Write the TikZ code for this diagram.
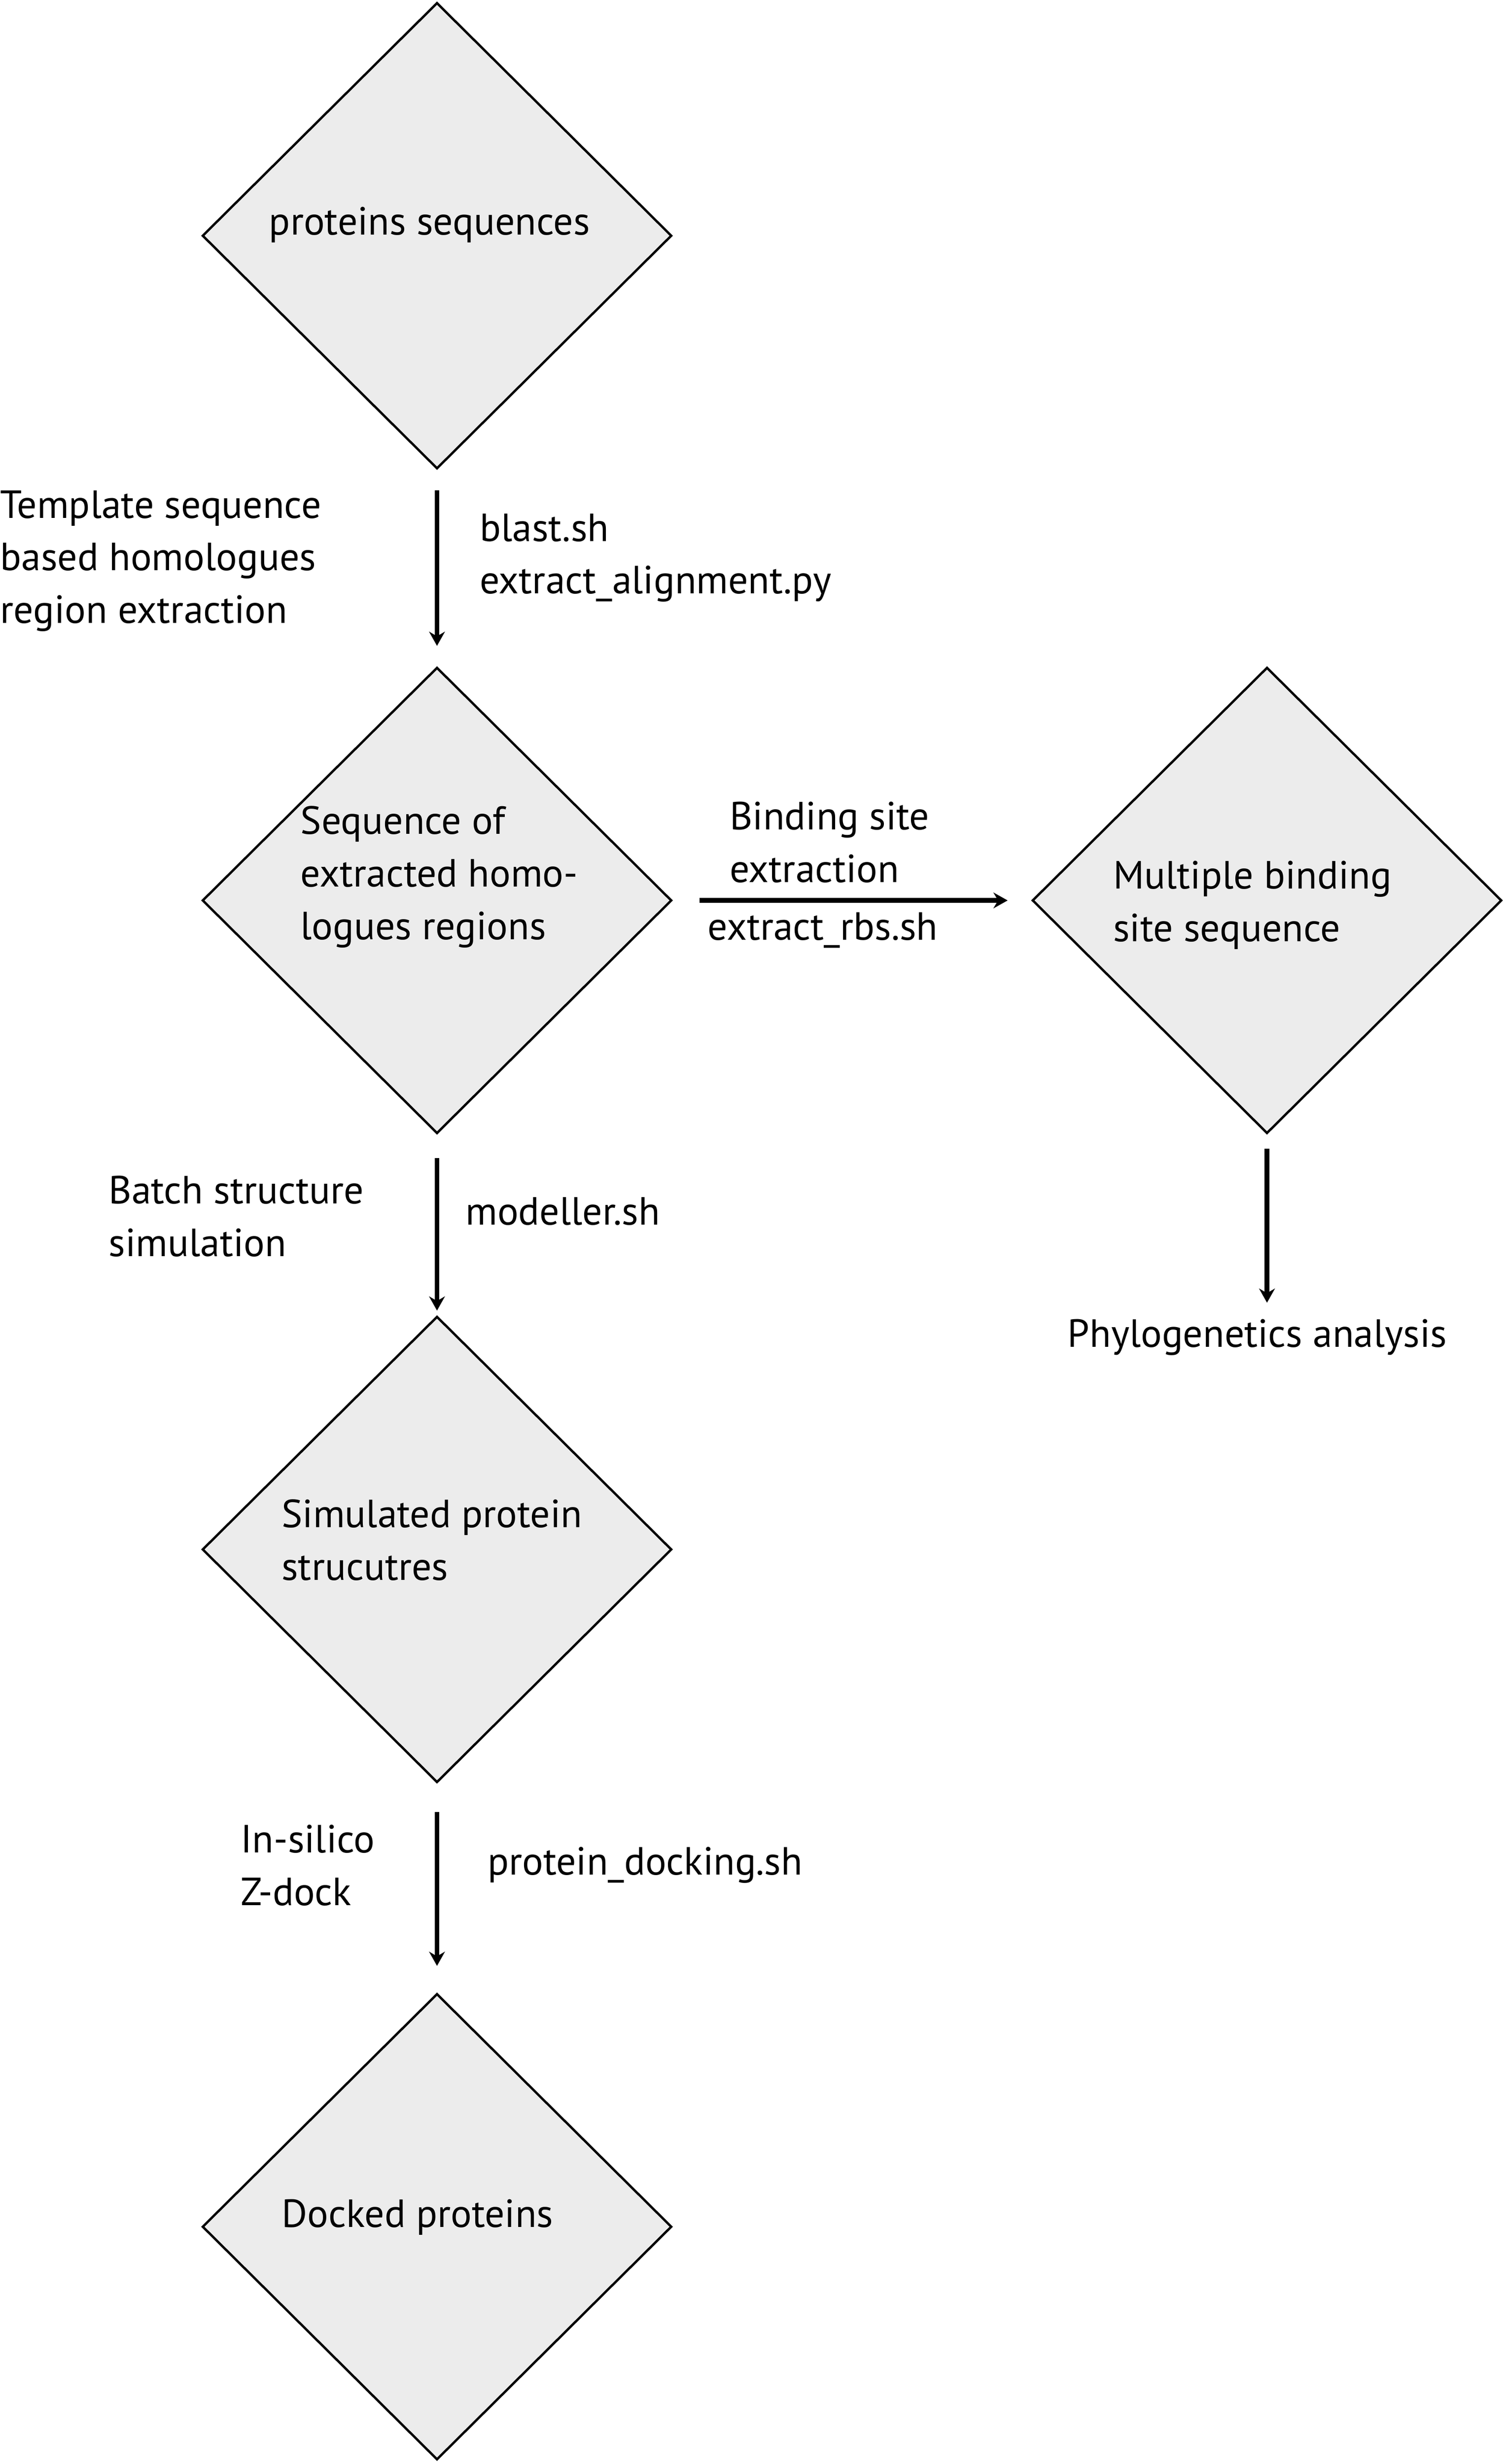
\documentclass[tikz,border=0pt]{standalone}
\usepackage{fontspec}
\setmainfont{PT Sans}
\usetikzlibrary{arrows.meta}
\begin{document}
\begin{tikzpicture}[x=1pt,y=-1pt,
  dia/.style={draw=black,line width=1.5pt,fill=gray!15},
  arr/.style={line width=3pt,-{Stealth[length=9pt,width=10pt]}},
  lbl/.style={anchor=west,align=left,inner sep=0pt,font=\fontsize{25}{33.5}\selectfont}]
\useasboundingbox (0,0) rectangle (958,1568);
\foreach \n/\x/\y in {d1/278/150,d2/278/573,d3/278/986,d4/278/1417,d5/806/573}
  \draw[dia] (\x-149,\y) -- (\x,\y-148) -- (\x+149,\y) -- (\x,\y+148) -- cycle;
\node[lbl] (t1) at (171,143) {proteins sequences};
\node[lbl] (t2) at (191,558) {Sequence of\\extracted homo-\\logues regions};
\node[lbl] (t3) at (179,980) {Simulated protein\\strucutres};
\node[lbl] (t4) at (179,1411) {Docked proteins};
\node[lbl] (t5) at (708,576) {Multiple binding\\site sequence};
\node[lbl] (l1) at (0,357) {Template sequence\\based homologues\\region extraction};
\node[lbl] (l2) at (305,355) {blast.sh\\extract\_alignment.py};
\node[lbl] (l3) at (464,536) {Binding site\\extraction};
\node[lbl] (l4) at (450,592) {extract\_rbs.sh};
\node[lbl] (l5) at (69,774) {Batch structure\\simulation};
\node[lbl] (l6) at (296,771) {modeller.sh};
\node[lbl] (l7) at (679,851) {Phylogenetics analysis};
\node[lbl] (l8) at (153,1187) {In-silico\\Z-dock};
\node[lbl] (l9) at (310,1187) {protein\_docking.sh};
\coordinate (a1) at (278,312); \coordinate (b1) at (278,411);
\coordinate (a2) at (445,573); \coordinate (b2) at (641,573);
\coordinate (a3) at (278,737); \coordinate (b3) at (278,834);
\coordinate (a4) at (806,731); \coordinate (b4) at (806,829);
\coordinate (a5) at (278,1153); \coordinate (b5) at (278,1251);
\foreach \i in {1,...,5} \draw[arr] (a\i) -- (b\i);
\end{tikzpicture}
\end{document}
